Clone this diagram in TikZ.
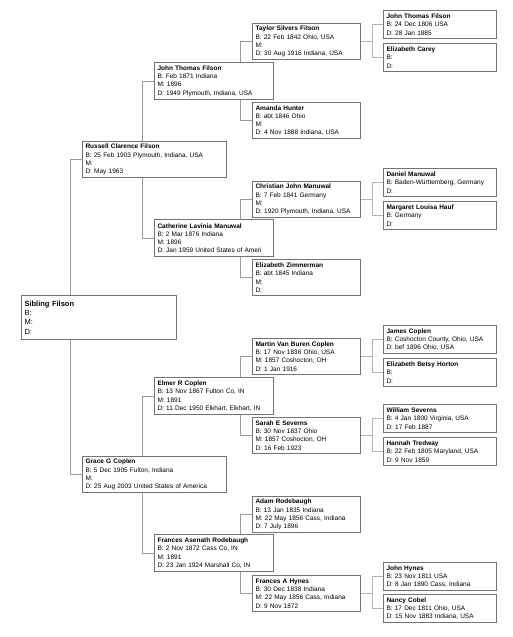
\documentclass[tikz,border=0pt]{standalone}
\usepackage{fontspec}
\setmainfont{Liberation Sans}
\definecolor{boxgray}{HTML}{737373}
\definecolor{linkgray}{HTML}{9A9A9A}
\definecolor{brackgray}{HTML}{B4B4B4}
\begin{document}
\begin{tikzpicture}[x=1pt, y=-1pt,
    box/.style={draw=boxgray, line width=1.1pt, fill=white, anchor=north west,
      inner xsep=3pt, inner ysep=0pt, align=left, font=\fontsize{6.5}{8.2}\selectfont},
    gen1/.style={box, text width=149pt, minimum height=44pt, font=\fontsize{7.5}{9.4}\selectfont},
    gen2/.style={box, text width=138pt, minimum height=36pt},
    gen3/.style={box, text width=113pt, minimum height=37pt},
    gen4/.style={box, text width=102pt, minimum height=36pt},
    gen5/.style={box, text width=107pt, minimum height=28pt},
    link/.style={draw=linkgray, line width=0.9pt},
    bracket/.style={draw=brackgray, line width=0.9pt}]
  \useasboundingbox (0,0) rectangle (512,637);

  % Generation 1
  \node[gen1] (sib) at (21,295) {\textbf{Sibling Filson}\\B:\\M:\\D:};

  % Generation 2 (parents)
  \node[gen2] (russell) at (82,141) {\textbf{Russell Clarence Filson}\\B: 25 Feb 1903 Plymouth, Indiana, USA\\M:\\D: May 1963};
  \node[gen2] (grace) at (82,456) {\textbf{Grace G Coplen}\\B: 5 Dec 1905 Fulton, Indiana\\M:\\D: 25 Aug 2003 United States of America};

  % Generation 3 (grandparents)
  \node[gen3] (jtf) at (154,62) {\textbf{John Thomas Filson}\\B: Feb 1871 Indiana\\M: 1896\\D: 1949 Plymouth, Indiana, USA};
  \node[gen3] (catherine) at (154,219) {\textbf{Catherine Lavinia Manuwal}\\B: 2 Mar 1876 Indiana\\M: 1896\\D: Jan 1959 United States of Ameri};
  \node[gen3] (elmer) at (154,377) {\textbf{Elmer R Coplen}\\B: 13 Nov 1867 Fulton Co, IN\\M: 1891\\D: 11 Dec 1950 Elkhart, Elkhart, IN};
  \node[gen3] (frances) at (154,534) {\textbf{Frances Asenath Rodebaugh}\\B: 2 Nov 1872 Cass Co, IN\\M: 1891\\D: 23 Jan 1924 Marshall Co, IN};

  % Generation 4
  \node[gen4] (taylor) at (252,23) {\textbf{Taylor Silvers Filson}\\B: 22 Feb 1842 Ohio, USA\\M:\\D: 30 Aug 1916 Indiana, USA};
  \node[gen4] (amanda) at (252,102) {\textbf{Amanda Hunter}\\B: abt 1846 Ohio\\M:\\D: 4 Nov 1888 Indiana, USA};
  \node[gen4] (christian) at (252,181) {\textbf{Christian John Manuwal}\\B: 7 Feb 1841 Germany\\M:\\D: 1920 Plymouth, Indiana, USA};
  \node[gen4] (zimmerman) at (252,259) {\textbf{Elizabeth Zimmerman}\\B: abt 1845 Indiana\\M:\\D:};
  \node[gen4] (martin) at (252,338) {\textbf{Martin Van Buren Coplen}\\B: 17 Nov 1836 Ohio, USA\\M: 1857 Coshocton, OH\\D: 1 Jan 1916};
  \node[gen4] (sarah) at (252,417) {\textbf{Sarah E Severns}\\B: 30 Nov 1837 Ohio\\M: 1857 Coshocton, OH\\D: 16 Feb 1923};
  \node[gen4] (adam) at (252,496) {\textbf{Adam Rodebaugh}\\B: 13 Jan 1835 Indiana\\M: 22 May 1856 Cass, Indiana\\D: 7 July 1896};
  \node[gen4] (hynes) at (252,575) {\textbf{Frances A Hynes}\\B: 30 Dec 1838 Indiana\\M: 22 May 1856 Cass, Indiana\\D: 9 Nov 1872};

  % Generation 5
  \node[gen5] (jtfsr) at (383,10) {\textbf{John Thomas Filson}\\B: 24 Dec 1806 USA\\D: 28 Jan 1885};
  \node[gen5] (carey) at (383,43) {\textbf{Elizabeth Carey}\\B:\\D:};
  \node[gen5] (daniel) at (383,168) {\textbf{Daniel Manuwal}\\B: Baden-Württemberg, Germany\\D:};
  \node[gen5] (margaret) at (383,201) {\textbf{Margaret Louisa Hauf}\\B: Germany\\D:};
  \node[gen5] (james) at (383,325) {\textbf{James Coplen}\\B: Coshocton County, Ohio, USA\\D: bef 1896 Ohio, USA};
  \node[gen5] (horton) at (383,358) {\textbf{Elizabeth Betsy Horton}\\B:\\D:};
  \node[gen5] (william) at (383,404) {\textbf{William Severns}\\B: 4 Jan 1800 Virginia, USA\\D: 17 Feb 1887};
  \node[gen5] (hannah) at (383,437) {\textbf{Hannah Tredway}\\B: 22 Feb 1805 Maryland, USA\\D: 9 Nov 1859};
  \node[gen5] (john) at (383,562) {\textbf{John Hynes}\\B: 23 Nov 1811 USA\\D: 8 Jan 1890 Cass, Indiana};
  \node[gen5] (nancy) at (383,594) {\textbf{Nancy Cobel}\\B: 17 Dec 1811 Ohio, USA\\D: 15 Nov 1883 Indiana, USA};

  % Parent links (father above, mother below the child)
  \foreach \c/\f/\m in {sib/russell/grace, russell/jtf/catherine, grace/elmer/frances,
      jtf/taylor/amanda, catherine/christian/zimmerman, elmer/martin/sarah, frances/adam/hynes} {
    \draw[link] (\f.west) -- ++(-11.5,0) coordinate (t) -- (t |- \c.north);
    \draw[link] (\m.west) -- ++(-11.5,0) coordinate (t) -- (t |- \c.south);
  }

  % Brackets to the last generation
  \foreach \c/\f/\m in {taylor/jtfsr/carey, christian/daniel/margaret, martin/james/horton,
      sarah/william/hannah, hynes/john/nancy} {
    \draw[bracket] (\c.east) -- ++(11.5,0) coordinate (b) (\f.west) -| (b) |- (\m.west);
  }
\end{tikzpicture}
\end{document}
